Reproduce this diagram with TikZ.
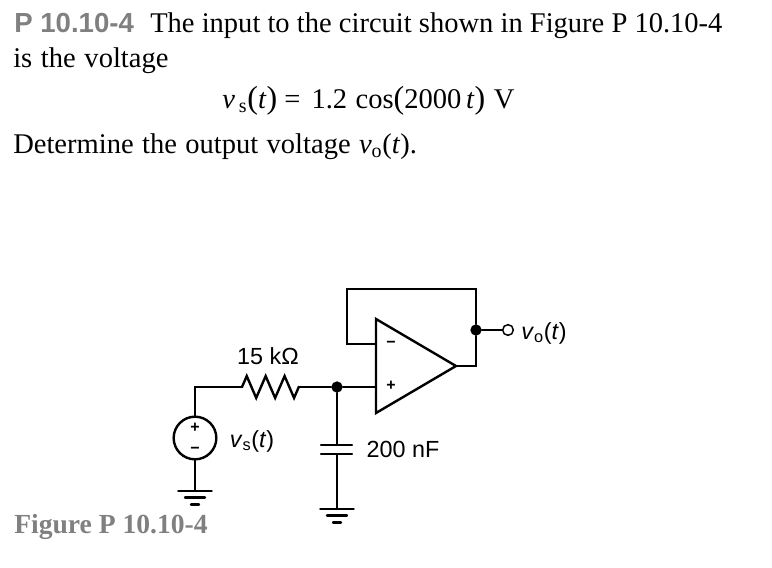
\documentclass[tikz,border=0pt]{standalone}
\usepackage{fontspec}
\setmainfont{Liberation Serif}
\setsansfont{Liberation Sans}
\usetikzlibrary{decorations.pathmorphing}
\definecolor{headgray}{HTML}{808080}
\tikzset{
  wire/.style={line width=1.8pt,line cap=round,line join=miter},
  dot/.style={circle,fill=black,inner sep=0pt,minimum size=8.5pt},
  term/.style={circle,draw,line width=1.1pt,fill=white,inner sep=0pt,minimum size=8pt},
  lbl/.style={font=\sffamily\fontsize{17.5}{20}\selectfont,inner sep=0pt},
  sign/.style={font=\sffamily\bfseries\fontsize{12}{12}\selectfont,inner sep=0pt},
  prose/.style={font=\fontsize{21.4}{24}\selectfont,anchor=base west,inner sep=0pt},
  head/.style={anchor=base west,inner sep=0pt,text=headgray},
  zig/.style={decorate,decoration={zigzag,segment length=14.2pt,amplitude=8.2pt}}
}
\newcommand{\bigp}[1]{{\fontsize{24}{24}\selectfont #1}}
\begin{document}
\begin{tikzpicture}[x=0.75pt,y=-0.75pt]
  \useasboundingbox (0,0) rectangle (772,568);

  % problem text
  \node[head,font=\sffamily\bfseries\fontsize{20.7}{22}\selectfont] (headno) at (14,32) {P 10.10-4};
  \node[prose] (line1) at (150,32) {The input to the circuit shown in Figure P 10.10-4};
  \node[prose] (line2) at (13,67) {\spaceskip=6.5pt is the voltage};
  \node[prose] (eqn) at (222,108) {\textit{v}\hspace{3pt}\textsubscript{s}\bigp{(}\textit{t}\bigp{)} = \hspace{3pt}1.2 \hspace{1pt}cos\bigp{(}2000\,\textit{t}\bigp{)} \hspace{1pt}V};
  \node[prose] (line3) at (13,153) {\spaceskip=6.3pt Determine the output voltage \textit{v}\textsubscript{o}(\textit{t}).};
  \node[head,font=\bfseries\fontsize{20.7}{22}\selectfont] (figcap) at (14,533) {Figure P 10.10-4};

  % op amp
  \coordinate (ampa) at (376,319);
  \coordinate (ampb) at (376,413);
  \coordinate (ampc) at (456,366);
  \draw[wire] (ampa) -- (ampb) -- (ampc) -- cycle;
  \node[sign] (minus) at (391,344) {−};
  \node[sign] (plus) at (391,386) {+};

  % source and resistor
  \node[circle,draw,line width=1.8pt,inner sep=0pt,minimum size=32pt] (vs) at (195,438) {};
  \node[sign] (vsp) at (195,428) {+};
  \node[sign] (vsm) at (195,450) {−};
  \coordinate (rleft) at (242,387);
  \coordinate (rright) at (299,387);
  \coordinate (vscorner) at (vs.north |- rleft);
  \draw[wire] (vs.north) -- (vscorner) -- (rleft);
  \draw[wire,zig] (rleft) -- (rright);

  % input node and capacitor
  \node[dot] (nin) at (337,387) {};
  \coordinate (ninp) at (ampa |- nin);
  \draw[wire] (rright) -- (nin) -- (ninp);
  \coordinate (captop) at (337,445);
  \coordinate (capbot) at (337,454);
  \draw[wire] (nin) -- (captop);
  \draw[wire] (321,445) -- (352,445);
  \draw[wire] (321,454) -- (352,454);

  % grounds
  \coordinate (gndc) at (337,509);
  \coordinate (gnds) at (vs.south |- 0,491);
  \draw[wire] (capbot) -- (gndc);
  \draw[wire] (vs.south) -- (gnds);
  \foreach \g in {gndc,gnds} {
    \draw[wire] ([xshift=-12.5pt]\g) -- ([xshift=12.5pt]\g);
    \draw[wire] ([xshift=-7.5pt,yshift=-5pt]\g) -- ([xshift=7.5pt,yshift=-5pt]\g);
    \draw[wire] ([xshift=-3pt,yshift=-10pt]\g) -- ([xshift=3pt,yshift=-10pt]\g);
  }

  % feedback and output
  \node[dot] (nout) at (476,330) {};
  \node[term] (vout) at (508,330) {};
  \coordinate (outcorner) at (nout |- ampc);
  \coordinate (fbright) at (nout |- 0,289);
  \coordinate (fbleft) at (347,289);
  \coordinate (nminus) at (ampa |- 0,344);
  \coordinate (fbdown) at (fbleft |- nminus);
  \draw[wire] (ampc) -- (outcorner) -- (nout) -- (fbright) -- (fbleft) -- (fbdown) -- (nminus);
  \draw[wire] (nout) -- (vout);

  % labels
  \node[lbl] (rlabel) at (268,356) {15 kΩ};
  \node[lbl] (clabel) at (403,449) {200 nF};
  \node[lbl] (vslabel) at (252,441) {\textit{v}\textsubscript{s}(\textit{t})};
  \node[lbl] (volabel) at (544,333) {\textit{v}\textsubscript{o}(\textit{t})};
\end{tikzpicture}
\end{document}
